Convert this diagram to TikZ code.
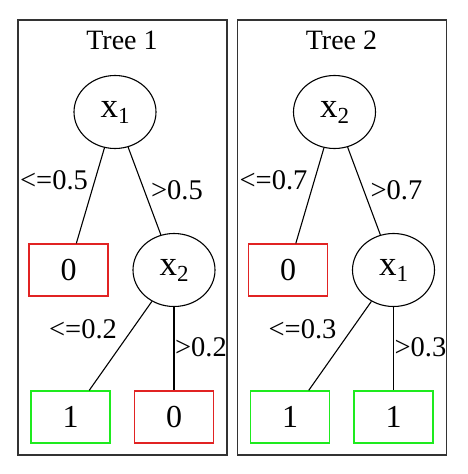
\documentclass[tikz,border=0pt]{standalone}
\usepackage{fontspec}
\setmainfont{Liberation Serif}
\usetikzlibrary{shapes.geometric}

\definecolor{leafred}{RGB}{225,35,35}
\definecolor{leafgreen}{RGB}{30,235,30}
\newcommand{\xvar}[1]{x\raisebox{-6pt}{\fontsize{23}{23}\selectfont #1}}

\tikzset{
  split/.style={draw,ellipse,minimum width=82pt,minimum height=73pt,inner sep=0pt,
                font=\fontsize{35}{35}\selectfont},
  leaf/.style={draw=#1,line width=1.3pt,minimum width=79pt,minimum height=52pt,inner sep=0pt,
               font=\fontsize{32}{32}\selectfont},
  cond/.style={inner sep=0pt,font=\fontsize{28.5}{28.5}\selectfont},
  title/.style={inner sep=0pt,font=\fontsize{28}{28}\selectfont},
  frame/.style={line width=1.4pt,black!80},
}

\begin{document}
\begin{tikzpicture}[x=1pt,y=-1pt,line width=1.1pt]
\useasboundingbox (0,0) rectangle (467,474);

%--- Tree 1 ---------------------------------------
\draw[frame] (18,20) rectangle (227,455);
\node[title] (tA) at (122,40) {Tree 1};

\node[split] (sA1) at (115,112) {\xvar{1}};
\node[leaf=leafred] (lA1) at (68.5,270) {0};
\node[split] (sA2) at (174,270) {\xvar{2}};
\node[leaf=leafgreen] (lA2) at (70.5,417) {1};
\node[leaf=leafred] (lA3) at (174,417) {0};

\draw (sA1) -- (lA1);
\draw (sA1) -- (sA2);
\draw (sA2) -- (lA2);
\draw (sA2) -- (lA3);

\node[cond] (cA1) at (54,180) {<=0.5};
\node[cond] (cA2) at (177,190) {>0.5};
\node[cond] (cA3) at (83,329) {<=0.2};
\node[cond] (cA4) at (201,347) {>0.2};

%--- Tree 2 ---------------------------------------
\begin{scope}[xshift=219.5pt]
\draw[frame] (18,20) rectangle (227,455);
\node[title] (tB) at (122,40) {Tree 2};

\node[split] (sB1) at (115,112) {\xvar{2}};
\node[leaf=leafred] (lB1) at (68.5,270) {0};
\node[split] (sB2) at (174,270) {\xvar{1}};
\node[leaf=leafgreen] (lB2) at (70.5,417) {1};
\node[leaf=leafgreen] (lB3) at (174,417) {1};

\draw (sB1) -- (lB1);
\draw (sB1) -- (sB2);
\draw (sB2) -- (lB2);
\draw (sB2) -- (lB3);

\node[cond] (cB1) at (54,180) {<=0.7};
\node[cond] (cB2) at (177,190) {>0.7};
\node[cond] (cB3) at (83,329) {<=0.3};
\node[cond] (cB4) at (201,347) {>0.3};
\end{scope}
\end{tikzpicture}
\end{document}
